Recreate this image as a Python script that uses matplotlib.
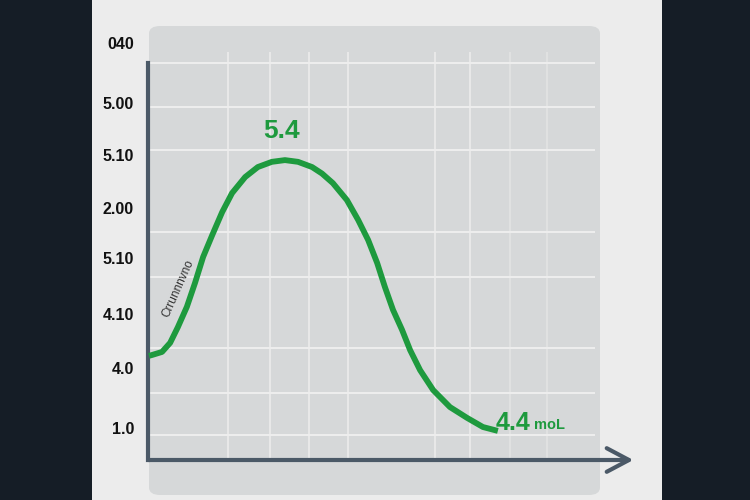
import matplotlib.pyplot as plt
from matplotlib.patches import Rectangle, FancyBboxPatch

plt.rcParams['font.family'] = ['Liberation Sans', 'DejaVu Sans']

# curve (x: 0..10 across the plot box, y: 0..10 up from the x axis)
x_vals = [0.02, 0.09, 0.31, 0.49, 0.66, 0.86, 1.04, 1.22, 1.42, 1.64, 1.86,
          2.15, 2.43, 2.74, 3.03, 3.32, 3.63, 3.85, 4.09, 4.40, 4.65, 4.87,
          5.07, 5.24, 5.42, 5.62, 5.80, 6.02, 6.31, 6.68, 7.06, 7.41, 7.74]
y_vals = [2.40, 2.42, 2.49, 2.70, 3.06, 3.53, 4.08, 4.68, 5.18, 5.71, 6.15,
          6.52, 6.75, 6.87, 6.91, 6.87, 6.75, 6.60, 6.38, 5.99, 5.53, 5.07,
          4.54, 3.99, 3.46, 3.00, 2.53, 2.07, 1.61, 1.22, 0.97, 0.76, 0.67]

tick_pos = [0.74, 2.12, 3.36, 4.65, 5.81, 7.03, 8.23, 9.61]
tick_labels = ["1.0", "4.0", "4.10", "5.10", "2.00", "5.10", "5.00", "040"]

peak_label = "5.4"
end_value = "4.4"
end_unit = "moL"
curve_note = "Crrunnnvno"

hgrid = [0.58, 1.54, 2.58, 4.22, 5.25, 7.14, 8.13, 9.15]
vgrid = [1.77, 2.70, 3.56, 4.42, 6.35, 7.12, 8.01, 8.83]

green = '#1e9a3e'
axis_col = '#4b5967'

fig = plt.figure(figsize=(7.5, 5), dpi=100, facecolor='#151d26')

# light panel and rounded plot box (figure coords)
fig.patches.append(Rectangle((92 / 750, 0), 570 / 750, 1, transform=fig.transFigure,
                             facecolor='#ececec', edgecolor='none', zorder=-2))
fig.patches.append(FancyBboxPatch((149 / 750, 5 / 500), 451 / 750, 469 / 500,
                                  boxstyle='round,pad=0,rounding_size=0.015',
                                  transform=fig.transFigure, facecolor='#d6d8d9',
                                  edgecolor='none', zorder=-1))

ax = fig.add_axes([148 / 750, 40 / 500, 452 / 750, 434 / 500])
ax.set_zorder(2)
ax.set_facecolor('none')
ax.set_xlim(0, 10)
ax.set_ylim(0, 10)

for y in hgrid:
    ax.hlines(y, 0, 9.89, color='#eeeeee', lw=1.4, zorder=1)
for i, x in enumerate(vgrid):
    ax.vlines(x, -0.07, 9.4, color='#eeeeee', lw=1.2, alpha=0.5 if i >= 6 else 0.9, zorder=1)

ax.plot(x_vals, y_vals, color=green, lw=4.2, solid_capstyle='butt',
        solid_joinstyle='round', zorder=3)

ax.text(2.96, 7.57, peak_label, color=green, fontsize=19, fontweight='bold',
        ha='center', va='center')
ax.text(7.70, 0.85, end_value, color=green, fontsize=18, fontweight='bold',
        ha='left', va='center')
ax.text(8.53, 0.80, end_unit, color=green, fontsize=10.5, fontweight='bold',
        ha='left', va='center')
ax.text(0.66, 3.95, curve_note, color='#333333', fontsize=8.5, rotation=66,
        ha='center', va='center')

ax.set_yticks(tick_pos, tick_labels, fontsize=11.5, fontweight='bold', color='#111111')
ax.tick_params(axis='y', length=0, pad=10)
ax.set_xticks([])

for s in ['top', 'right', 'bottom']:
    ax.spines[s].set_visible(False)
ax.spines['left'].set_color(axis_col)
ax.spines['left'].set_linewidth(3)
ax.spines['left'].set_bounds(0, 9.15)

ax.annotate('', xy=(1.08, 0), xytext=(-0.005, 0), xycoords='axes fraction',
            arrowprops=dict(arrowstyle='->,head_length=1.6,head_width=0.85',
                            color=axis_col, lw=3), annotation_clip=False)

fig.savefig('out.png', dpi=100, facecolor=fig.get_facecolor())
